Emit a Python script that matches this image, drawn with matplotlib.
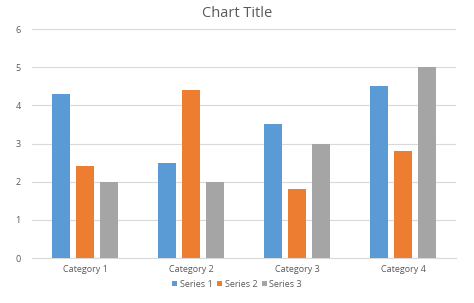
import matplotlib.pyplot as plt
import numpy as np

categories = ['Category 1', 'Category 2', 'Category 3', 'Category 4']
series_names = ['Series 1', 'Series 2', 'Series 3']
series_1 = [4.3, 2.5, 3.5, 4.5]
series_2 = [2.4, 4.4, 1.8, 2.8]
series_3 = [2, 2, 3, 5]
colors = ['#5B9BD5', '#ED7D31', '#A5A5A5']

plt.rcParams['font.family'] = ['Open Sans', 'DejaVu Sans']

fig = plt.figure(figsize=(4.74, 3.03), dpi=100)
ax = fig.add_axes([0.0675, 0.1485, 0.8945, 0.7555])

x = np.arange(len(categories))
width = 0.17
offsets = [-0.226, 0, 0.226]
for vals, off, c, name in zip([series_1, series_2, series_3], offsets, colors, series_names):
    ax.bar(x + off, vals, width, color=c, label=name, zorder=3)

ax.set_xlim(-0.5, 3.5)
ax.set_ylim(0, 6)
ax.set_yticks(range(0, 7))
ax.set_xticks(x)
ax.set_xticklabels(categories)
ax.grid(axis='y', color='#D9D9D9', linewidth=0.8, zorder=0)
for s in ['top', 'right', 'left']:
    ax.spines[s].set_visible(False)
ax.spines['bottom'].set_color('#D9D9D9')
ax.tick_params(axis='both', length=0, labelsize=6.5, labelcolor='#595959')
ax.tick_params(axis='y', pad=8)
ax.tick_params(axis='x', pad=5)

fig.text(0.5, 0.955, 'Chart Title', ha='center', va='center', fontsize=10.5, color='#595959')

fig.legend(loc='center', bbox_to_anchor=(0.5, 0.062), ncol=3, frameon=False,
           fontsize=6.5, labelcolor='#595959', handlelength=0.55, handleheight=0.55,
           handletextpad=0.3, columnspacing=0.5)

fig.savefig('out.png', dpi=100)
